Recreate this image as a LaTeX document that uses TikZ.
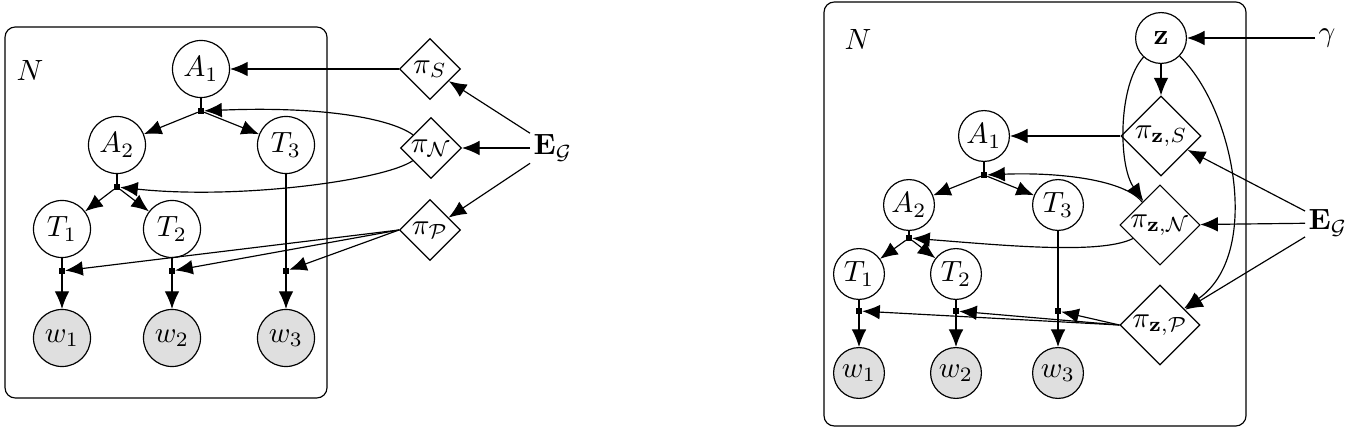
\documentclass[tikz,border=0pt]{standalone}
\usepackage{amsmath,amssymb}
\usetikzlibrary{shapes.geometric,arrows.meta}
\begin{document}
\begin{tikzpicture}[x=0.012cm,y=-0.012cm,
  >={Latex[length=6pt,width=5pt]},
  latent/.style={circle,draw,minimum size=0.684cm,inner sep=0pt},
  latentr/.style={circle,draw,minimum size=0.61cm,inner sep=0pt},
  obs/.style={latent,fill=gray!25},
  obsr/.style={latentr,fill=gray!25},
  param/.style={diamond,draw,aspect=1,inner sep=0pt,minimum size=0.73cm},
  paramr/.style={diamond,draw,aspect=1,inner sep=0pt,minimum size=0.96cm},
  factor/.style={rectangle,fill=black,minimum size=1.8pt,inner sep=0pt},
  plate/.style={draw,rounded corners=3.5pt}]
\useasboundingbox (0,0) rectangle (1350,429);

\draw[plate] (5,27) rectangle (327,398);
\node (N1) at (30,70) {$N$};
\node[latent] (A1) at (201,69) {$A_1$};
\node[factor] (fA1) at (201,111) {};
\node[latent] (A2) at (117,145) {$A_2$};
\node[latent] (T3) at (286,145) {$T_3$};
\node[factor] (fA2) at (117,187) {};
\node[latent] (T1) at (62,229) {$T_1$};
\node[latent] (T2) at (172,229) {$T_2$};
\node[factor] (fT1) at (62,271) {};
\node[factor] (fT2) at (172,271) {};
\node[factor] (fT3) at (286,271) {};
\node[obs] (w1) at (62,338) {$w_1$};
\node[obs] (w2) at (172,338) {$w_2$};
\node[obs] (w3) at (286,338) {$w_3$};
\node[param] (piS) at (430,69) {$\pi_S$};
\node[param] (piN) at (431,148) {$\pi_{\mathcal{N}}$};
\node[param] (piP) at (430,230) {$\pi_{\mathcal{P}}$};
\node[inner sep=1pt] (EG) at (553,148) {$\mathbf{E}_{\mathcal{G}}$};

\draw (A1) -- (fA1);
\draw[->] (fA1) -- (A2);
\draw[->] (fA1) -- (T3);
\draw (A2) -- (fA2);
\draw[->] (fA2) -- (T1);
\draw[->] (fA2) -- (T2);
\draw (T1) -- (fT1);
\draw (T2) -- (fT2);
\draw (T3) -- (fT3);
\draw[->] (fT1) -- (w1);
\draw[->] (fT2) -- (w2);
\draw[->] (fT3) -- (w3);
\draw[->] (piS) -- (A1);
\draw[->] (piN) .. controls (390,118) and (320,106) .. (fA1);
\draw[->] (piN) .. controls (385,180) and (240,200) .. (fA2);
\draw[->] (piP.west) -- (fT1);
\draw[->] (piP.west) -- (fT2);
\draw[->] (piP.west) -- (fT3);
\draw[->] (EG) -- (piS);
\draw[->] (EG) -- (piN);
\draw[->] (EG) -- (piP);

\draw[plate] (824,2) rectangle (1246,426);
\node (N2) at (858,39) {$N$};
\node[latentr] (z) at (1161,38) {$\mathbf{z}$};
\node[inner sep=1pt] (gamma) at (1327,38) {$\gamma$};
\node[paramr] (pzS) at (1161,136) {$\pi_{\mathbf{z},S}$};
\node[paramr] (pzN) at (1160,225) {$\pi_{\mathbf{z},\mathcal{N}}$};
\node[paramr] (pzP) at (1160,325) {$\pi_{\mathbf{z},\mathcal{P}}$};
\node[inner sep=1pt] (EG2) at (1328,223) {$\mathbf{E}_{\mathcal{G}}$};
\node[latentr] (A1r) at (984,136) {$A_1$};
\node[factor] (fA1r) at (984,175) {};
\node[latentr] (A2r) at (909,205) {$A_2$};
\node[latentr] (T3r) at (1058,205) {$T_3$};
\node[factor] (fA2r) at (909,238) {};
\node[latentr] (T1r) at (859,274) {$T_1$};
\node[latentr] (T2r) at (956,274) {$T_2$};
\node[factor] (fT1r) at (859,311) {};
\node[factor] (fT2r) at (956,311) {};
\node[factor] (fT3r) at (1058,311) {};
\node[obsr] (w1r) at (859,373) {$w_1$};
\node[obsr] (w2r) at (956,373) {$w_2$};
\node[obsr] (w3r) at (1058,373) {$w_3$};

\draw (A1r) -- (fA1r);
\draw[->] (fA1r) -- (A2r);
\draw[->] (fA1r) -- (T3r);
\draw (A2r) -- (fA2r);
\draw[->] (fA2r) -- (T1r);
\draw[->] (fA2r) -- (T2r);
\draw (T1r) -- (fT1r);
\draw (T2r) -- (fT2r);
\draw (T3r) -- (fT3r);
\draw[->] (fT1r) -- (w1r);
\draw[->] (fT2r) -- (w2r);
\draw[->] (fT3r) -- (w3r);
\draw[->] (gamma) -- (z);
\draw[->] (z) -- (pzS);
\draw[->] (z) .. controls (1118,85) and (1118,165) .. (pzN);
\draw[->] (z) .. controls (1235,110) and (1262,255) .. (pzP);
\draw[->] (pzS) -- (A1r);
\draw[->] (pzN) .. controls (1125,180) and (1060,172) .. (fA1r);
\draw[->] (pzN) .. controls (1100,255) and (1000,245) .. (fA2r);
\draw[->] (pzP.west) -- (fT1r);
\draw[->] (pzP.west) -- (fT2r);
\draw[->] (pzP.west) -- (fT3r);
\draw[->] (EG2) -- (pzS);
\draw[->] (EG2) -- (pzN);
\draw[->] (EG2) -- (pzP);
\end{tikzpicture}
\end{document}
